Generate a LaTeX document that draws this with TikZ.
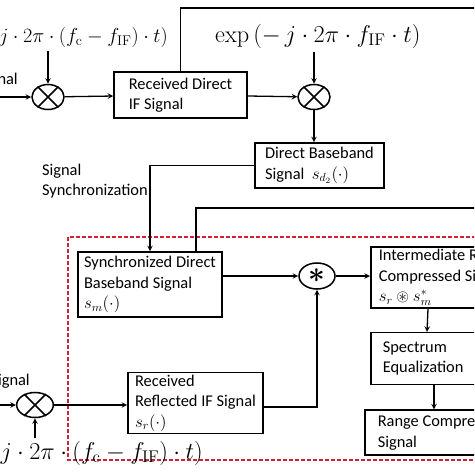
\documentclass[tikz,border=0pt]{standalone}
\usepackage{amsmath,amssymb}
\usepackage[no-math]{fontspec}
\setmainfont{Carlito}
\usetikzlibrary{shapes.geometric, arrows.meta, positioning, calc}
\definecolor{dashred}{RGB}{205,35,55}
\tikzstyle{block} = [rectangle, draw=black, line width=1.3pt, align=left, inner xsep=0.3cm, inner ysep=2pt, font=\fontsize{14}{17.5}\selectfont]
\tikzstyle{mixer} = [ellipse, draw=black, line width=1.3pt, minimum width=0.96cm, minimum height=0.75cm, inner sep=0pt]
\tikzstyle{formula} = [inner sep=0pt, font=\fontsize{20}{24}\selectfont]
\tikzstyle{note} = [inner sep=0pt, align=left, font=\fontsize{14}{17.5}\selectfont]
\tikzstyle{wire} = [line width=1.1pt]
\tikzstyle{arrow} = [line width=1.1pt,->,>=stealth]

\begin{document}
\begin{tikzpicture}[x=0.03cm, y=-0.03cm]
        \useasboundingbox (0,0) rectangle (474,474);
        \clip (0,0) rectangle (474,474);

        % Sinyal referensi (atas)
        \node (fmix1) [formula, font=\fontsize{18}{21}\selectfont, anchor=east] at (168,37) {$\exp\left(j\cdot 2\pi\cdot\left(f_{\mathrm{c}}-f_{\mathrm{IF}}\right)\cdot t\right)$};
        \node (fmix2) [formula, anchor=west] at (215,36) {$\exp\left(-\,j\cdot 2\pi\cdot f_{\mathrm{IF}}\cdot t\right)$};
        \node (sigD) [note, anchor=east] at (18,80) {Signal};
        \coordinate (inD) at (-5,97);
        \coordinate (outTop) at (480,8);
        \coordinate (inRight) at (480,208);

        % Mixer
        \node (mix1) [mixer] at (48,97) {};
        \node (mix2) [mixer] at (314,97) {};
        \node (mix3) [mixer, minimum width=1.1cm] at (35,405) {};
        \node (conv) [mixer, minimum width=1.08cm, minimum height=0.78cm] at (317,276) {\fontsize{36}{36}\selectfont$\boldsymbol{\ast}$};
        \foreach \m in {mix1,mix2,mix3}
            \draw [line width=1.3pt] (\m.45) -- (\m.225) (\m.135) -- (\m.315);

        % Kanal langsung
        \node (rdif) [block, minimum width=3.99cm, minimum height=1.38cm] at (180.5,95) {Received Direct\\IF Signal};
        \node (dbb) [block, minimum width=3.75cm, minimum height=1.35cm] at (319.5,165.5) {Direct Baseband\\Signal~ $s_{d_2}\!\left(\cdot\right)$};
        \node (synclbl) [note, anchor=east] at (148,181) {Signal\\Synchronization};

        % Kotak merah (pemrosesan)
        \draw [dashred, line width=1.2pt, dash pattern=on 0.12cm off 0.06cm] (68,237) rectangle (490,460);

        \node (sync) [block, inner xsep=0.1cm, minimum width=4.32cm, minimum height=1.95cm] at (150,284.5) {Synchronized Direct\\Baseband Signal\\ $s_m\!\left(\cdot\right)$};
        \node (inter) [block, anchor=west, inner xsep=0.24cm, minimum height=1.77cm] at (370,277.5) {Intermediate Range\\Compressed Signal\\ $s_r\circledast s_m^{*}$};
        \node (spec) [block, below=0.69cm of inter.south west, anchor=north west, inner xsep=0.36cm, minimum height=1.56cm] {Spectrum\\Equalization};
        \node (range) [block, below=0.72cm of spec.south west, anchor=north west, xshift=-0.18cm, inner xsep=0.39cm, minimum height=1.35cm] {Range Compressed\\Signal};

        % Kanal pantul
        \node (rrif) [block, inner xsep=0.1cm, minimum width=4.05cm, minimum height=1.8cm] at (195.5,403) {Received\\Reflected IF Signal\\ $s_r\!\left(\cdot\right)$};
        \node (sigR) [note, anchor=east] at (30,381) {Signal};
        \coordinate (inR) at (-5,405);
        \node (fmix3) [formula, anchor=east] at (203,453) {$\exp\left(j\cdot 2\pi\cdot\left(f_{\mathrm{c}}-f_{\mathrm{IF}}\right)\cdot t\right)$};

        % Garis panah
        \draw [arrow] (inD) -- (mix1);
        \draw [arrow] ([yshift=-3pt]fmix1.south -| mix1) -- (mix1);
        \draw [arrow] (mix1) -- (rdif);
        \draw [arrow] (rdif) -- (mix2);
        \draw [arrow] ([yshift=-3pt]fmix2.south -| mix2) -- (mix2);
        \draw [wire] (rdif.north) |- (outTop);
        \draw [arrow] (mix2) -- (mix2 |- dbb.north);
        \draw [arrow] (dbb.west) -| (sync.north);
        \draw [wire] (inRight) -| ($(sync.north)+(46,0)$);
        \draw [arrow] (sync.east |- conv) -- (conv);
        \draw [arrow] (conv) -- (conv -| inter.west);
        \draw [arrow] ($(inter.south west)+(58,0)$) -- ($(spec.north west)+(57,0)$);
        \draw [arrow] ($(spec.south west)+(64,0)$) -- ($(range.north west)+(70,0)$);
        \draw [arrow] (inR) -- (mix3);
        \draw [arrow] (mix3) -- (rrif.west |- mix3);
        \draw [arrow] ([yshift=2pt]fmix3.north -| mix3) -- (mix3);
        \draw [arrow] (rrif.east |- 0,407) -| (conv.south);
\end{tikzpicture}
\end{document}
